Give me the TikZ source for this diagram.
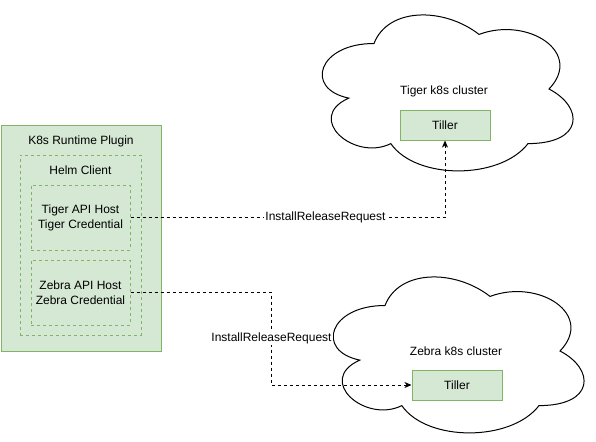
\documentclass[tikz,border=0pt]{standalone}
\usepackage{fontspec}
\setmainfont{Liberation Sans}
\usepackage{xcolor}
\usetikzlibrary{arrows.meta,positioning}

\definecolor{boxfill}{HTML}{D5E8D4}
\definecolor{boxline}{HTML}{82B366}

\tikzset{
	greenbox/.style={draw=boxline,fill=boxfill,line width=1pt,inner sep=0pt},
	dashbox/.style={greenbox,dash pattern=on 3pt off 3pt},
	txt/.style={font=\fontsize{12}{15}\selectfont,align=center,inner sep=1pt},
	req/.style={draw=black,line width=1pt,dash pattern=on 3pt off 3pt,
		-{Stealth[length=7pt,width=6pt,inset=2pt]}},
	lbl/.style={txt,fill=white,inner sep=1pt}
}

% draw.io style cloud, corner (#1,#2), size #3 x #4
\newcommand{\cloudpath}[4]{
	\begin{scope}[shift={(#1,#2)},xscale=#3,yscale=#4]
		\draw[line width=1pt,fill=white] (0.25,0.25)
			.. controls (0.05,0.25) and (0,0.5) .. (0.16,0.55)
			.. controls (0,0.66) and (0.18,0.9) .. (0.31,0.8)
			.. controls (0.4,1) and (0.7,1) .. (0.8,0.8)
			.. controls (1,0.8) and (1,0.6) .. (0.875,0.5)
			.. controls (1,0.3) and (0.8,0.1) .. (0.625,0.2)
			.. controls (0.5,0.05) and (0.3,0.05) .. (0.25,0.25) -- cycle;
	\end{scope}
}

\begin{document}
\begin{tikzpicture}[x=1pt,y=-1pt]
	\useasboundingbox (0,0) rectangle (596,441);

	% clouds
	\cloudpath{304}{-2}{280}{182}
	\cloudpath{315}{260}{280}{182}
	\node[txt] (tigercluster) at (444,91) {Tiger k8s cluster};
	\node[txt] (zebracluster) at (456,351) {Zebra k8s cluster};
	\node[greenbox,txt,minimum width=90pt,minimum height=30pt] (tigertiller) at (445,125) {Tiller};
	\node[greenbox,txt,minimum width=90pt,minimum height=30pt] (zebratiller) at (457,385) {Tiller};

	% plugin side
	\node[greenbox,minimum width=160pt,minimum height=226pt] (plugin) at (81,238) {};
	\node[txt] (plugintitle) at (81,141) {K8s Runtime Plugin};
	\node[dashbox,minimum width=121pt,minimum height=180pt] (helm) at (80.5,245) {};
	\node[txt] (helmtitle) at (80.5,170) {Helm Client};
	\node[dashbox,txt,minimum width=99pt,minimum height=65pt] (tigerhost) at (80.5,217.5) {Tiger API Host\\Tiger Credential};
	\node[dashbox,txt,minimum width=99pt,minimum height=65pt] (zebrahost) at (80.5,292.5) {Zebra API Host\\Zebra Credential};

	% requests
	\draw[req] (tigerhost.east) -| node[lbl,pos=0.31] {InstallReleaseRequest} (tigertiller.south);
	\draw[req] (zebrahost.east) -- ++(141,0) |- node[lbl,pos=0.25] {InstallReleaseRequest} (zebratiller.west);
\end{tikzpicture}
\end{document}
